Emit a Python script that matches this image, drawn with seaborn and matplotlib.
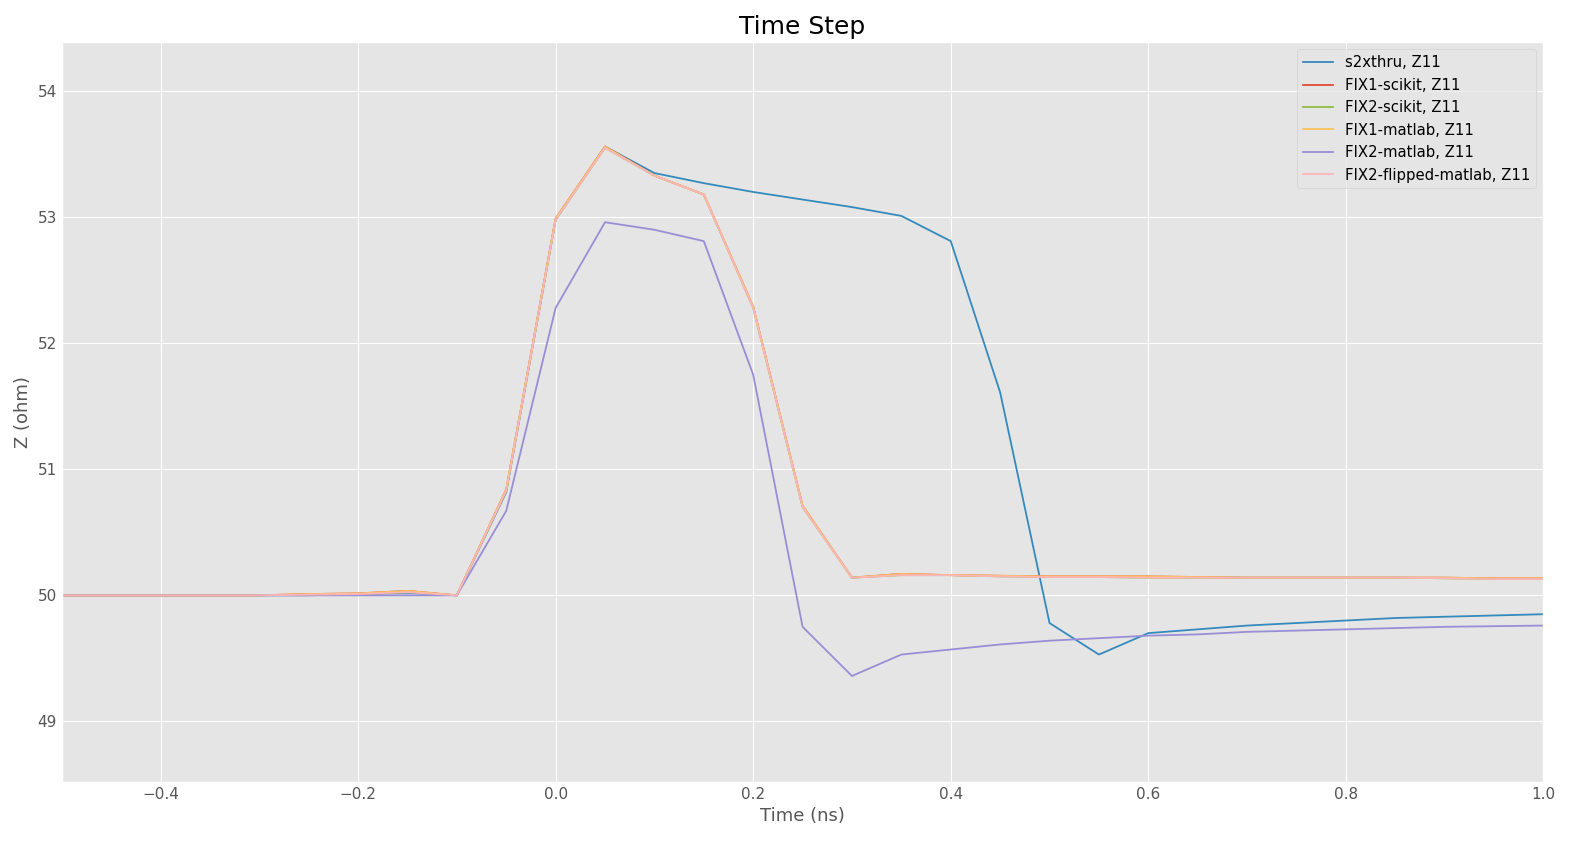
import pandas as pd
import matplotlib
matplotlib.use('Agg')
import matplotlib.pyplot as plt
import seaborn as sns

################################################################################

time_ns = [-0.5, -0.45, -0.4, -0.35, -0.3, -0.25, -0.2, -0.15, -0.1, -0.05,
           0.0, 0.05, 0.1, 0.15, 0.2, 0.25, 0.3, 0.35, 0.4, 0.45,
           0.5, 0.55, 0.6, 0.65, 0.7, 0.75, 0.8, 0.85, 0.9, 0.95, 1.0]

s2xthru = [50.0, 50.0, 50.0, 50.0, 50.0, 50.0, 50.01, 50.02, 50.0, 50.82,
           52.98, 53.56, 53.35, 53.27, 53.20, 53.14, 53.08, 53.01, 52.81, 51.61,
           49.78, 49.53, 49.70, 49.73, 49.76, 49.78, 49.80, 49.82, 49.83, 49.84, 49.85]

fix1_scikit = [50.0, 50.0, 50.0, 50.0, 50.0, 50.01, 50.015, 50.035, 50.0, 50.84,
               52.99, 53.56, 53.33, 53.18, 52.29, 50.71, 50.14, 50.17, 50.16, 50.155,
               50.15, 50.15, 50.15, 50.145, 50.14, 50.14, 50.14, 50.14, 50.14, 50.135, 50.135]

fix2_scikit = [50.0, 50.0, 50.0, 50.0, 50.0, 50.005, 50.01, 50.025, 50.0, 50.83,
               52.98, 53.55, 53.33, 53.18, 52.28, 50.70, 50.14, 50.16, 50.16, 50.15,
               50.145, 50.145, 50.14, 50.14, 50.14, 50.14, 50.14, 50.14, 50.135, 50.13, 50.13]

fix1_matlab = [50.0, 50.0, 50.0, 50.0, 50.0, 50.01, 50.015, 50.035, 50.0, 50.84,
               52.99, 53.56, 53.33, 53.18, 52.29, 50.71, 50.14, 50.17, 50.16, 50.155,
               50.15, 50.15, 50.15, 50.145, 50.14, 50.14, 50.14, 50.14, 50.14, 50.135, 50.135]

fix2_matlab = [50.0, 50.0, 50.0, 50.0, 50.0, 50.0, 50.0, 50.0, 50.0, 50.67,
               52.28, 52.96, 52.90, 52.81, 51.75, 49.75, 49.36, 49.53, 49.57, 49.61,
               49.64, 49.66, 49.68, 49.69, 49.71, 49.72, 49.73, 49.74, 49.75, 49.755, 49.76]

fix2_flipped_matlab = [50.0, 50.0, 50.0, 50.0, 50.0, 50.005, 50.01, 50.025, 50.0, 50.83,
                       52.98, 53.55, 53.33, 53.18, 52.28, 50.70, 50.14, 50.16, 50.16, 50.15,
                       50.145, 50.145, 50.14, 50.14, 50.14, 50.14, 50.14, 50.14, 50.135, 50.13, 50.13]

series_names = ['s2xthru, Z11', 'FIX1-scikit, Z11', 'FIX2-scikit, Z11',
                'FIX1-matlab, Z11', 'FIX2-matlab, Z11', 'FIX2-flipped-matlab, Z11']
series_values = [s2xthru, fix1_scikit, fix2_scikit, fix1_matlab, fix2_matlab, fix2_flipped_matlab]
series_colors = ['#348ABD', '#E24A33', '#8EBA42', '#FBC15E', '#988ED5', '#FFB5B8']

################################################################################

df = pd.concat([
    pd.DataFrame({'time': time_ns, 'z': values, 'series': name})
    for name, values in zip(series_names, series_values)
], ignore_index = True)

plt.style.use('ggplot')

fig, ax = plt.subplots(figsize = (15.83, 8.48), dpi = 100)

sns.lineplot(
    data = df,
    x = 'time',
    y = 'z',
    hue = 'series',
    hue_order = series_names,
    palette = series_colors,
    linewidth = 1.3,
    ax = ax
)

ax.set_xlim(-0.5, 1.0)
ax.set_ylim(48.52, 54.39)
ax.set_xticks([-0.4, -0.2, 0.0, 0.2, 0.4, 0.6, 0.8, 1.0])
ax.set_yticks([49, 50, 51, 52, 53, 54])
ax.tick_params(length = 0, labelsize = 11)

ax.set_title('Time Step', fontsize = 18, color = 'black')
ax.set_xlabel('Time (ns)', fontsize = 13)
ax.set_ylabel('Z (ohm)', fontsize = 13)

ax.legend(loc = 'upper right', fontsize = 10.7)

plt.subplots_adjust(left = 0.039, right = 0.975, top = 0.9505, bottom = 0.078)
plt.savefig('out.png', dpi = 100)
